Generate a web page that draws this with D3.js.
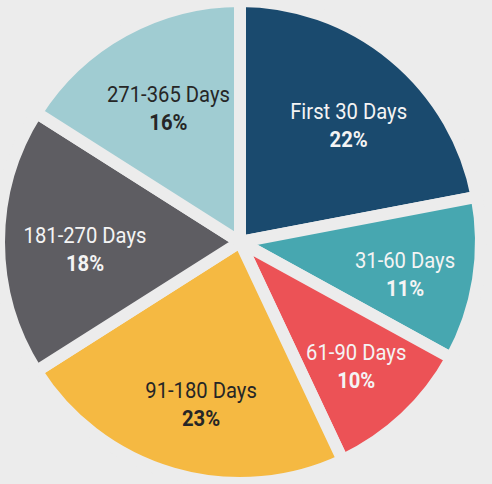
<!DOCTYPE html>
<html>
<head>
<meta charset="utf-8">
<script src="https://cdn.jsdelivr.net/npm/d3@7"></script>
<style>
  html, body { margin: 0; padding: 0; background: #ececec; }
  svg { display: block; }
</style>
</head>
<body>
<svg id="chart" width="492" height="484"></svg>
<script>
// share of cases by time bucket, clockwise from 12 o'clock
const categories = ["First 30 Days", "31-60 Days", "61-90 Days", "91-180 Days", "181-270 Days", "271-365 Days"];
const shares = [22, 11, 10, 23, 18, 16];
const sliceColors = ["#1a4a6e", "#47a7b0", "#ec5256", "#f5b942", "#5e5d62", "#a0ccd2"];
const labelColors = ["#f4f4f4", "#f4f4f4", "#f4f4f4", "#262626", "#f4f4f4", "#262626"];

const width = 492, height = 484;
const cx = 240, cy = 242;
const radius = 241;
const bg = "#ececec";

const svg = d3.select("#chart");
svg.append("rect").attr("width", width).attr("height", height).attr("fill", bg);

const data = categories.map((c, i) => ({ name: c, value: shares[i], color: sliceColors[i], text: labelColors[i] }));

const pie = d3.pie().value(d => d.value).sort(null);
const arc = d3.arc().innerRadius(0).outerRadius(radius);
const labelArc = d3.arc().innerRadius(161).outerRadius(161);

const g = svg.append("g").attr("transform", `translate(${cx},${cy})`);
const arcs = pie(data);

// slices, the thick background-coloured stroke makes the gaps
g.selectAll("path.slice")
    .data(arcs)
    .join("path")
    .attr("class", "slice")
    .attr("d", arc)
    .attr("fill", d => d.data.color)
    .attr("stroke", bg)
    .attr("stroke-width", 12)
    .attr("stroke-linejoin", "miter");

const labels = g.selectAll("g.label")
    .data(arcs)
    .join("g")
    .attr("class", "label")
    .attr("transform", d => {
        const [x, y] = labelArc.centroid(d);
        return `translate(${x + 6},${y + 7})`;
    });

labels.append("text")
    .attr("y", -6)
    .attr("text-anchor", "middle")
    .attr("transform", "scale(0.92,1)")
    .style("font-family", "Roboto, 'Noto Sans', sans-serif")
    .style("font-size", "22px")
    .attr("fill", d => d.data.text)
    .text(d => d.data.name);

labels.append("text")
    .attr("y", 22)
    .attr("text-anchor", "middle")
    .attr("transform", "scale(0.92,1)")
    .style("font-family", "Roboto, 'Noto Sans', sans-serif")
    .style("font-size", "22px")
    .style("font-weight", "bold")
    .attr("fill", d => d.data.text)
    .text(d => d.data.value + "%");
</script>
</body>
</html>
